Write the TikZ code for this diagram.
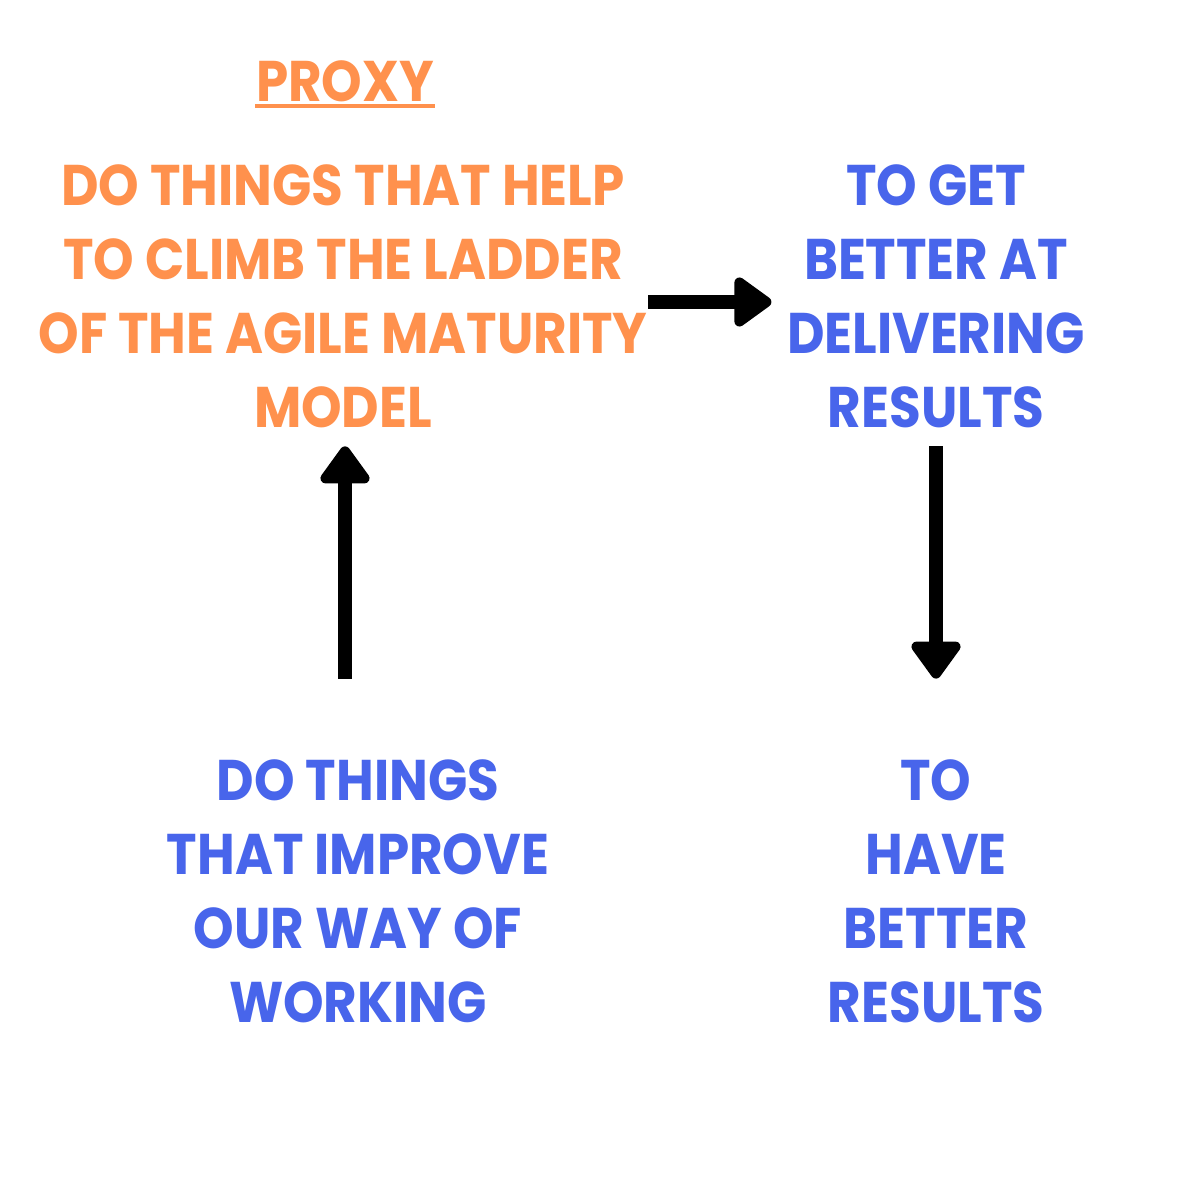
\documentclass[tikz,border=0pt]{standalone}
\usepackage{fontspec}
\setmainfont{Poppins}[FakeStretch=0.9]
\usetikzlibrary{arrows.meta}
\definecolor{proxyorange}{RGB}{255,145,77}
\definecolor{resultblue}{RGB}{72,101,235}
\tikzset{%
  caps/.style  = {align=center, inner sep=0pt,%
                  font=\fontsize{16.3}{21.05}\selectfont\bfseries},%
  proxy/.style = {caps, text=proxyorange},%
  goal/.style  = {caps, text=resultblue},%
  flow/.style  = {line width=0.14cm, -{Triangle[width=0.56cm,length=0.41cm,round]}}%
}

\begin{document}
\begin{tikzpicture}[x=0.01cm,y=-0.01cm]
		\fill[white] (0,0) rectangle (1200,1200);
		\useasboundingbox (0,0) rectangle (1200,1200);
		\node [proxy, inner ysep=0.04cm] (title) at (345,81) {PROXY};
		\draw [proxyorange, line width=0.04cm] (title.south west) -- (title.south east);
		\node [proxy] (ladder) at (343,296) {DO THINGS THAT HELP\\TO CLIMB THE LADDER\\OF THE AGILE MATURITY\\MODEL};
		\node [goal] (better) at (936,296) {TO GET\\BETTER AT\\DELIVERING\\RESULTS};
		\node [goal] (work) at (358,891) {DO THINGS\\THAT IMPROVE\\OUR WAY OF\\WORKING};
		\node [goal] (have) at (936,891) {TO\\HAVE\\BETTER\\RESULTS};
		\draw [flow, shorten <=0.8cm, shorten >=0.18cm] (work.north -| 345,0) -- (ladder.south -| 345,0);
		\draw [flow, shorten >=0.15cm] ([yshift=-0.06cm]ladder.east) -- ([yshift=-0.06cm]better.west);
		\draw [flow, shorten <=0.18cm, shorten >=0.8cm] (better.south) -- (have.north);
\end{tikzpicture}
\end{document}
